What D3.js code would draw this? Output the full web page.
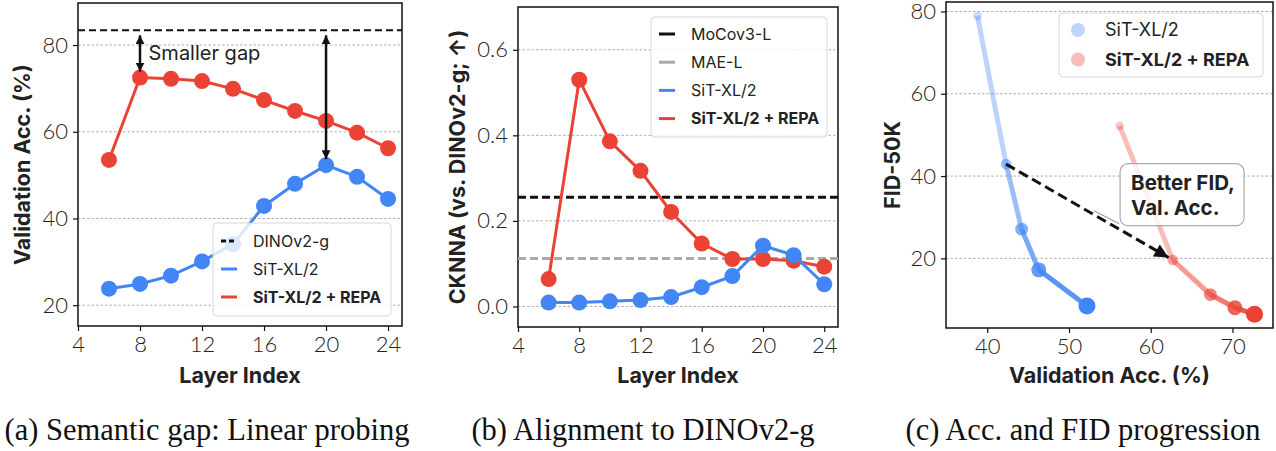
<!DOCTYPE html>
<html>
<head>
<meta charset="utf-8">
<script src="https://d3js.org/d3.v7.min.js"></script>
<style>
  body { margin: 0; background: #fff; }
  text { font-family: Inter, "Open Sans", "DejaVu Sans", sans-serif; }
  .tick text { font-family: Lato, Inter, sans-serif; font-weight: 300; font-size: 22px; fill: #222; }
  .title { font-weight: 700; font-size: 21.5px; fill: #222; }
  .caption { font-family: "Liberation Serif", "DejaVu Serif", serif; font-size: 30.5px; fill: #111; }
  .leg { fill: #222; }
</style>
</head>
<body>
<svg width="1276" height="451"></svg>
<script>

// ---- data ----
var layers = [6, 8, 10, 12, 14, 16, 18, 20, 22, 24];
var probeSit  = [23.8, 24.9, 26.8, 30.1, 34.1, 42.9, 48.0, 52.3, 49.6, 44.5];
var probeRepa = [53.5, 72.5, 72.2, 71.7, 69.9, 67.3, 64.8, 62.5, 59.8, 56.2];
var probeDino = 83.4;

var cknnaSit  = [0.009, 0.009, 0.012, 0.015, 0.022, 0.045, 0.071, 0.142, 0.120, 0.052];
var cknnaRepa = [0.064, 0.530, 0.386, 0.317, 0.221, 0.147, 0.111, 0.111, 0.107, 0.093];
var cknnaMoco = 0.255;
var cknnaMae  = 0.112;

var progSitAcc  = [38.8, 42.3, 44.2, 46.3, 52.2];
var progSitFid  = [78.9, 42.9, 27.1, 17.2, 8.4];
var progRepaAcc = [56.2, 62.7, 67.3, 70.3, 72.7];
var progRepaFid = [52.2, 19.6, 11.2, 8.0, 6.4];

var layerTicks = [4, 8, 12, 16, 20, 24];
var probeTicks = [20, 40, 60, 80];
var cknnaTicks = [0.0, 0.2, 0.4, 0.6];
var accTicks = [40, 50, 60, 70];
var fidTicks = [20, 40, 60, 80];

var blue = "#4285F4", red = "#EA4335";

var svg = d3.select("svg");

var defs = svg.append("defs");
function arrowHead(id, w, l) {
  defs.append("marker")
      .attr("id", id)
      .attr("viewBox", "0 0 10 10")
      .attr("refX", 10).attr("refY", 5)
      .attr("markerUnits", "userSpaceOnUse")
      .attr("markerWidth", l).attr("markerHeight", w)
      .attr("orient", "auto-start-reverse")
    .append("path")
      .attr("d", "M0,0 L10,5 L0,10 z")
      .attr("fill", "#111");
}
arrowHead("headSmall", 9, 9);
arrowHead("headBig", 14, 15);

// common frame: grid, axes, box, titles
function frame(box, x, y, xt, yt, yfmt, xlabel, ylabel, ylabX, caption) {
  var g = svg.append("g");
  g.append("g").selectAll("line")
    .data(yt).enter().append("line")
      .attr("x1", box.l).attr("x2", box.r)
      .attr("y1", function(d) { return y(d); })
      .attr("y2", function(d) { return y(d); })
      .attr("stroke", "#999").attr("stroke-width", 0.8)
      .attr("stroke-dasharray", "2.5,2");

  g.append("g")
      .attr("transform", "translate(0," + box.b + ")")
      .call(d3.axisBottom(x).tickValues(xt).tickSize(5).tickPadding(5))
    .call(function(a) { a.select(".domain").remove(); });
  g.append("g")
      .attr("transform", "translate(" + box.l + ",0)")
      .call(d3.axisLeft(y).tickValues(yt).tickSize(5).tickPadding(5).tickFormat(yfmt))
    .call(function(a) { a.select(".domain").remove(); });
  g.selectAll(".tick line").attr("stroke", "#111").attr("stroke-width", 1.2);

  g.append("rect")
      .attr("x", box.l).attr("y", box.t)
      .attr("width", box.r - box.l).attr("height", box.b - box.t)
      .attr("fill", "none").attr("stroke", "#111").attr("stroke-width", 1.5);

  g.append("text").attr("class", "title")
      .attr("x", (box.l + box.r) / 2).attr("y", 383)
      .attr("text-anchor", "middle").text(xlabel);
  g.append("text").attr("class", "title")
      .attr("transform", "translate(" + ylabX + "," + ((box.t + box.b) / 2) + ") rotate(-90)")
      .attr("text-anchor", "middle").attr("dy", "0.35em").text(ylabel);
  svg.append("text").attr("class", "caption")
      .attr("x", caption[1]).attr("y", 440)
      .attr("text-anchor", "middle").text(caption[0]);
  return g;
}

function series(g, x, y, vals, color) {
  var pts = layers.map(function(l, i) { return [l, vals[i]]; });
  g.append("path")
      .datum(pts)
      .attr("fill", "none").attr("stroke", color).attr("stroke-width", 3)
      .attr("d", d3.line().x(function(d) { return x(d[0]); }).y(function(d) { return y(d[1]); }));
  g.append("g").selectAll("circle")
    .data(pts).enter().append("circle")
      .attr("cx", function(d) { return x(d[0]); })
      .attr("cy", function(d) { return y(d[1]); })
      .attr("r", 8).attr("fill", color);
}

function hline(g, x, y, v, color, width, dash) {
  g.append("line")
      .attr("x1", x.range()[0]).attr("x2", x.range()[1])
      .attr("y1", y(v)).attr("y2", y(v))
      .attr("stroke", color).attr("stroke-width", width)
      .attr("stroke-dasharray", dash);
}

function legend(g, bx, by, bw, bh, items, rowH, fs) {
  var lg = g.append("g").attr("transform", "translate(" + bx + "," + by + ")");
  lg.append("rect").attr("width", bw).attr("height", bh)
      .attr("rx", 4).attr("fill", "#fff").attr("fill-opacity", 0.8)
      .attr("stroke", "#d8d8d8").attr("stroke-width", 1);
  items.forEach(function(it, i) {
    var cy = rowH[0] + i * rowH[1];
    if (it.dot) {
      lg.append("circle").attr("cx", 19).attr("cy", cy).attr("r", 7)
          .attr("fill", it.color).attr("fill-opacity", 0.35);
    } else {
      lg.append("line").attr("x1", 8).attr("x2", 24).attr("y1", cy).attr("y2", cy)
          .attr("stroke", it.color).attr("stroke-width", 3)
          .attr("stroke-dasharray", it.dash || null);
    }
    lg.append("text").attr("class", "leg")
        .attr("x", it.dot ? 46 : 40).attr("y", cy).attr("dy", "0.35em")
        .attr("font-size", fs)
        .attr("font-weight", it.bold ? 700 : 400)
        .text(it.label);
  });
}

// ---- (a) linear probing ----
var boxA = {l: 78, r: 402, t: 3, b: 326};
var xA = d3.scaleLinear().domain([4, 24.9]).range([boxA.l, boxA.r]);
var yA = d3.scaleLinear().domain([15.2, 89.7]).range([boxA.b, boxA.t]);
var gA = frame(boxA, xA, yA, layerTicks, probeTicks, d3.format("d"),
  "Layer Index", "Validation Acc. (%)", 22, ["(a) Semantic gap: Linear probing", 207]);
hline(gA, xA, yA, probeDino, "#111", 2, "7,4");
series(gA, xA, yA, probeRepa, red);
series(gA, xA, yA, probeSit, blue);

[[8, probeRepa[1]], [20, probeSit[7]]].forEach(function(p) {
  gA.append("line")
      .attr("x1", xA(p[0])).attr("x2", xA(p[0]))
      .attr("y1", yA(probeDino) + 5).attr("y2", yA(p[1]) - 6)
      .attr("stroke", "#111").attr("stroke-width", 2.5)
      .attr("marker-start", "url(#headSmall)").attr("marker-end", "url(#headSmall)");
});
gA.append("text")
    .attr("x", xA(8.55)).attr("y", yA(78.1)).attr("dy", "0.35em")
    .attr("font-size", 20).attr("fill", "#222").text("Smaller gap");

legend(gA, 213, 223, 178, 93, [
  {label: "DINOv2-g", color: "#111", dash: "5,3"},
  {label: "SiT-XL/2", color: blue},
  {label: "SiT-XL/2 + REPA", color: red, bold: true}
], [18, 28], 16);

// ---- (b) CKNNA alignment ----
var boxB = {l: 518, r: 838, t: 7, b: 327};
var xB = d3.scaleLinear().domain([4, 24.9]).range([boxB.l, boxB.r]);
var yB = d3.scaleLinear().domain([-0.048, 0.70]).range([boxB.b, boxB.t]);
var gB = frame(boxB, xB, yB, layerTicks, cknnaTicks, d3.format(".1f"),
  "Layer Index", "CKNNA (vs. DINOv2-g; \u2191)", 457, ["(b) Alignment to DINOv2-g", 643]);
hline(gB, xB, yB, cknnaMoco, "#111", 3, "8,4");
hline(gB, xB, yB, cknnaMae, "#aaa", 3, "8,4");
series(gB, xB, yB, cknnaRepa, red);
series(gB, xB, yB, cknnaSit, blue);

legend(gB, 651, 17, 176, 120, [
  {label: "MoCov3-L", color: "#111"},
  {label: "MAE-L", color: "#aaa"},
  {label: "SiT-XL/2", color: blue},
  {label: "SiT-XL/2 + REPA", color: red, bold: true}
], [17, 28.2], 16);

// ---- (c) acc vs FID progression ----
var boxC = {l: 946, r: 1273, t: 2, b: 328};
var xC = d3.scaleLinear().domain([34.95, 74.96]).range([boxC.l, boxC.r]);
var yC = d3.scaleLinear().domain([3.07, 82.3]).range([boxC.b, boxC.t]);
var gC = frame(boxC, xC, yC, accTicks, fidTicks, d3.format("d"),
  "Validation Acc. (%)", "FID-50K", 892, ["(c) Acc. and FID progression", 1083]);

var alpha = d3.scaleLinear().domain([0, 4]).range([0.3, 1]);
var rad = d3.scaleLinear().domain([0, 4]).range([4.3, 8.5]);

function progression(accs, fids, color) {
  var pts = accs.map(function(a, i) { return [a, fids[i]]; });
  var sg = gC.append("g");
  d3.pairs(pts).forEach(function(pr, i) {
    sg.append("line")
        .attr("x1", xC(pr[0][0])).attr("y1", yC(pr[0][1]))
        .attr("x2", xC(pr[1][0])).attr("y2", yC(pr[1][1]))
        .attr("stroke", color).attr("stroke-width", 5)
        .attr("stroke-opacity", alpha(i + 0.3));
  });
  sg.selectAll("circle")
    .data(pts).enter().append("circle")
      .attr("cx", function(d) { return xC(d[0]); })
      .attr("cy", function(d) { return yC(d[1]); })
      .attr("r", function(d, i) { return rad(i); })
      .attr("fill", color)
      .attr("fill-opacity", function(d, i) { return alpha(i); });
}
progression(progSitAcc, progSitFid, blue);
progression(progRepaAcc, progRepaFid, red);

// "better" arrow from a SiT point to a REPA point
var from = [xC(progSitAcc[1]), yC(progSitFid[1])];
var to = [xC(progRepaAcc[1]), yC(progRepaFid[1])];
var dx = to[0] - from[0], dy = to[1] - from[1], len = Math.sqrt(dx * dx + dy * dy);
gC.append("line")
    .attr("x1", from[0]).attr("y1", from[1])
    .attr("x2", to[0] - dx / len * 5).attr("y2", to[1] - dy / len * 5)
    .attr("stroke", "#111").attr("stroke-width", 3)
    .attr("stroke-dasharray", "10,5")
    .attr("marker-end", "url(#headBig)");

var noteX = xC(56.25), noteY = yC(43.0);
gC.append("line")
    .attr("x1", noteX - 1).attr("y1", noteY + 60)
    .attr("x2", xC(53.1)).attr("y2", yC(20.1) - 47)
    .attr("stroke", "#888").attr("stroke-width", 1);
gC.append("rect")
    .attr("x", noteX).attr("y", noteY)
    .attr("width", 124).attr("height", 62).attr("rx", 8)
    .attr("fill", "#fff").attr("fill-opacity", 0.8)
    .attr("stroke", "#aaa").attr("stroke-width", 1.2);
["Better FID,", "Val. Acc."].forEach(function(t, i) {
  gC.append("text")
      .attr("x", noteX + 11).attr("y", noteY + 19 + i * 25).attr("dy", "0.35em")
      .attr("font-size", 20.5).attr("font-weight", 700).attr("fill", "#222")
      .text(t);
});

legend(gC, 1059, 13, 204, 64, [
  {label: "SiT-XL/2", color: blue, dot: true},
  {label: "SiT-XL/2 + REPA", color: red, dot: true, bold: true}
], [17, 29.5], 18);

</script>
</body>
</html>
